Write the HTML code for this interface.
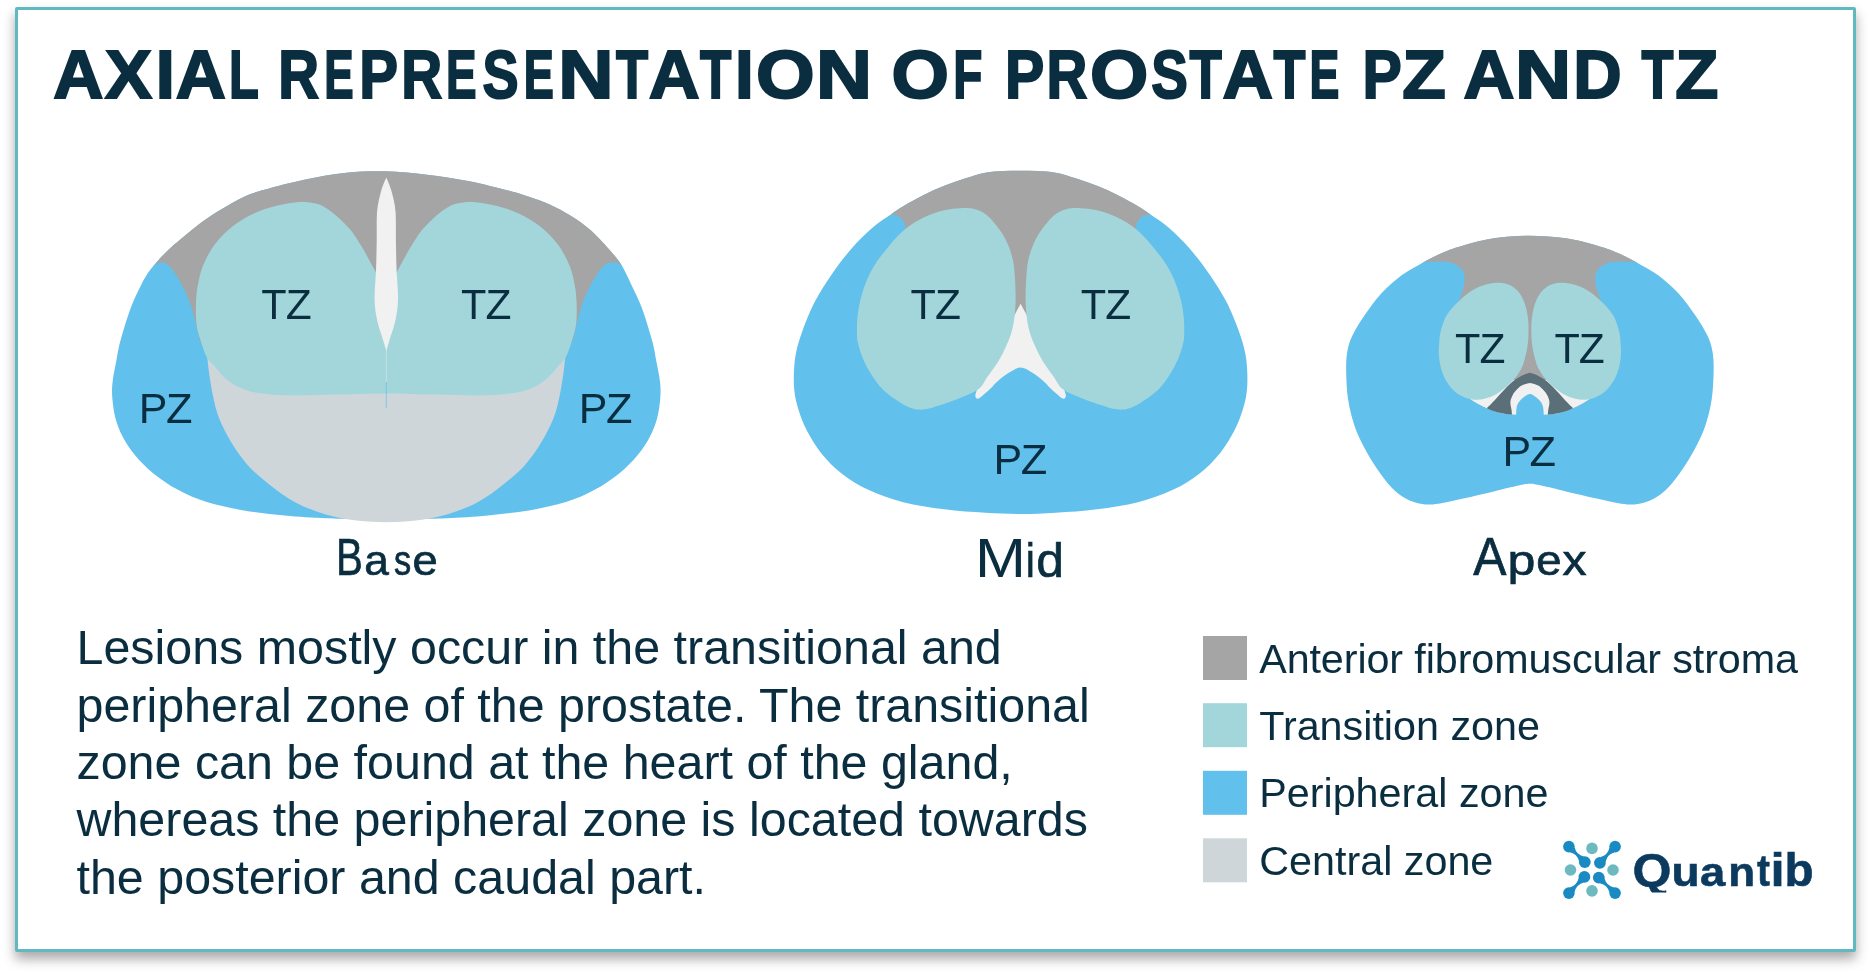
<!DOCTYPE html>
<html lang="en">
<head>
<meta charset="utf-8">
<title>Axial representation of prostate PZ and TZ</title>
<style>
html,body{margin:0;padding:0;background:#fff;}
body{width:1871px;height:975px;position:relative;overflow:hidden;font-family:"Liberation Sans",sans-serif;}
.card{position:absolute;left:15px;top:7px;width:1835px;height:939px;border:3px solid #62b8c0;border-radius:2px;background:#fff;box-shadow:0 7px 12px rgba(55,48,48,.42);}
svg{position:absolute;left:0;top:0;will-change:transform;}
svg text{font-family:"Liberation Sans",sans-serif;}
</style>
</head>
<body>
<div class="card"></div>
<svg width="1871" height="975" viewBox="0 0 1871 975">
<path d="M386.3 171.3C372.9 171 359.8 171.3 346.3 172.7C332.8 174.1 319 176.7 305.3 179.5C291.6 182.3 274.5 186.9 264.2 189.8C253.9 192.7 250.5 193.8 243.7 196.9C236.9 200 230 204.1 223.2 208.2C216.3 212.3 209.4 216.6 202.6 221.6C195.8 226.6 188.2 232.9 182.1 238C175.9 243.1 171 247.1 165.7 252.4C160.4 257.7 154.4 264.3 150.3 269.8C146.2 275.3 144.2 278.9 141 285.2C137.8 291.5 134.2 298.6 130.8 307.8C127.4 317 122.9 331.8 120.5 340.6C118.1 349.4 117.7 353.8 116.4 360.5C115.1 367.2 113.4 374.8 112.7 381C112 387.2 111.8 391.3 112.3 397.5C112.8 403.7 113.7 411.5 115.4 418C117.1 424.5 119.3 430.3 122.6 436.5C125.8 442.7 129.8 448.9 134.9 455C140 461.1 146.2 467.6 153.4 473.4C160.6 479.2 169.1 485 178 489.8C186.9 494.6 195.8 498.7 206.7 502.1C217.6 505.5 230.7 508.2 243.7 510.4C256.7 512.6 271 514.2 284.7 515.5C298.4 516.8 313.8 517.7 325.8 518.2C337.8 518.8 346.5 518.7 356.6 518.8C366.7 518.9 376.4 519 386.3 519C396.2 519 405.9 518.9 416 518.8C426.1 518.7 434.8 518.8 446.8 518.2C458.8 517.7 474.2 516.8 487.9 515.5C501.6 514.2 515.9 512.6 528.9 510.4C541.9 508.2 555 505.5 565.9 502.1C576.9 498.7 585.7 494.6 594.6 489.8C603.5 485 612 479.2 619.2 473.4C626.4 467.6 632.6 461.1 637.7 455C642.8 448.9 646.8 442.7 650 436.5C653.2 430.3 655.5 424.5 657.2 418C658.9 411.5 659.9 403.7 660.3 397.5C660.8 391.3 660.6 387.2 659.9 381C659.2 374.8 657.5 367.2 656.2 360.5C654.9 353.8 654.5 349.4 652.1 340.6C649.7 331.8 645.2 317 641.8 307.8C638.4 298.6 634.9 292.2 631.6 285.2C628.3 278.2 625.3 271.2 622 265.7C618.7 260.2 616.9 258.2 611.8 252.4C606.7 246.6 598.1 236.9 591.3 230.8C584.4 224.7 577.6 220.2 570.7 215.8C563.9 211.5 557 207.8 550.2 204.7C543.4 201.6 536.5 199.3 529.7 197C522.9 194.7 519.5 193.5 509.2 190.8C498.9 188.2 481.8 183.8 468.1 181.1C454.4 178.4 440.6 176.4 427 174.8C413.4 173.2 399.8 171.7 386.3 171.3Z" fill="#62c0ec"/>
<path d="M150.3 269.8C152.9 266.9 160.4 257.7 165.7 252.4C171 247.1 175.9 243.1 182.1 238C188.2 232.9 195.8 226.6 202.6 221.6C209.4 216.6 216.3 212.3 223.2 208.2C230 204.1 236.9 200 243.7 196.9C250.5 193.8 253.9 192.7 264.2 189.8C274.5 186.9 291.6 182.3 305.3 179.5C319 176.7 332.8 174.1 346.3 172.7C359.8 171.3 372.9 171 386.3 171.3C399.8 171.7 413.4 173.2 427 174.8C440.6 176.4 454.4 178.4 468.1 181.1C481.8 183.8 498.9 188.2 509.2 190.8C519.5 193.5 522.9 194.7 529.7 197C536.5 199.3 543.4 201.6 550.2 204.7C557 207.8 563.9 211.5 570.7 215.8C577.6 220.2 584.4 224.7 591.3 230.8C598.1 236.9 606.7 246.6 611.8 252.4C616.9 258.2 620.3 263.5 622 265.7C621.2 265.3 619.3 263.7 617.5 263.2C615.7 262.7 613 262.4 611 262.6C609 262.8 607.3 263.4 605.6 264.4C603.9 265.4 603.3 265.3 600.8 268.8C598.3 272.3 593.6 279.4 590.5 285.2C587.4 291 584.5 297.5 582.3 303.7C580.1 309.9 578.8 315.7 577.2 322.1C575.6 328.5 573.4 338.7 572.6 342L200 342C199.2 338.7 197 328.5 195.4 322.1C193.8 315.7 192.5 309.9 190.3 303.7C188.1 297.5 185.2 291 182.1 285.2C179 279.4 174.3 272.3 171.8 268.8C169.3 265.3 168.7 265.4 167 264.4C165.3 263.4 163.5 262.6 161.6 262.6C159.7 262.6 157.4 263.4 155.5 264.6C153.6 265.8 151.2 268.9 150.3 269.8Z" fill="#a5a5a5"/>
<path d="M205 350C205.3 350.4 206.1 348.8 206.7 352.3C207.3 355.8 207.8 363.6 208.8 370.8C209.8 378 211.2 387.5 212.9 395.4C214.6 403.3 215.9 410.1 219 418C222.1 425.9 226.6 434.7 231.4 442.6C236.2 450.5 241.7 458.4 247.8 465.2C254 472 260.4 477.5 268.3 483.7C276.2 489.9 285.4 497.1 295 502.2C304.6 507.3 315.5 511.4 325.8 514.5C336.1 517.6 346.5 519.3 356.6 520.6C366.7 521.9 376.4 522.3 386.3 522.3C396.2 522.3 405.9 521.9 416 520.6C426.1 519.3 436.5 517.6 446.8 514.5C457.1 511.4 468 507.3 477.6 502.2C487.2 497.1 496.4 489.9 504.3 483.7C512.2 477.5 518.6 472 524.8 465.2C530.9 458.4 536.4 450.5 541.2 442.6C546 434.7 550.5 425.9 553.6 418C556.7 410.1 558 403.3 559.7 395.4C561.4 387.5 562.8 378 563.8 370.8C564.8 363.6 565.3 355.8 565.9 352.3C566.5 348.8 567.3 350.4 567.6 350Z" fill="#ced6da"/>
<path d="M386.3 292L374 268.8C372.1 265.4 366.6 254.8 362.7 248.3C358.8 241.8 354.8 235.3 350.4 229.8C345.9 224.3 340.8 219.4 336 215.4C331.2 211.4 326.1 207.8 321.7 205.6C317.3 203.4 313.8 203 309.4 202.5C304.9 202 300.8 201.9 295 202.5C289.2 203.1 281.4 204.4 274.5 206.2C267.6 208 260.8 210.2 253.9 213.4C247.1 216.7 239.9 220.6 233.4 225.7C226.9 230.8 220 237.4 214.9 244.2C209.8 251 205.5 259.5 202.6 266.7C199.7 273.9 198.6 281.1 197.5 287.3C196.4 293.5 196.2 297.6 196 303.7C195.8 309.8 195.7 318 196.5 324.2C197.3 330.4 198.9 335.1 200.6 340.6C202.3 346.1 204.3 352.6 206.7 357C209.1 361.4 211.5 362.9 214.9 366.7C218.3 370.5 222.5 376.2 227.3 380C232.1 383.8 237.5 387 243.7 389.3C249.8 391.6 255.6 392.8 264.2 393.8C272.8 394.8 283 395.3 295 395.4C307 395.5 320.8 394.9 336 394.6C351.2 394.3 369.5 393.4 386.3 393.4C403.1 393.4 421.4 394.3 436.6 394.6C451.8 394.9 465.6 395.5 477.6 395.4C489.6 395.3 499.9 394.8 508.4 393.8C517 392.8 522.8 391.6 528.9 389.3C535.1 387 540.5 383.8 545.3 380C550.1 376.2 554.3 370.5 557.7 366.7C561.1 362.9 563.5 361.4 565.9 357C568.3 352.6 570.3 346.1 572 340.6C573.7 335.1 575.3 330.4 576.1 324.2C576.9 318 576.8 309.8 576.6 303.7C576.4 297.6 576.2 293.5 575.1 287.3C574 281.1 572.9 273.9 570 266.7C567.1 259.5 562.8 251 557.7 244.2C552.6 237.4 545.7 230.8 539.2 225.7C532.7 220.6 525.6 216.7 518.7 213.4C511.9 210.2 505 208 498.1 206.2C491.2 204.4 483.4 203.1 477.6 202.5C471.8 201.9 467.7 202 463.2 202.5C458.8 203 455.3 203.4 450.9 205.6C446.5 207.8 441.4 211.4 436.6 215.4C431.8 219.4 426.7 224.3 422.2 229.8C417.8 235.3 413.8 241.8 409.9 248.3C406 254.8 400.5 265.4 398.6 268.8Z" fill="#a3d6da"/>
<path d="M386.3 350V382" stroke="#e8f0f1" stroke-width="1" fill="none" opacity=".5"/>
<path d="M386.3 382V408" stroke="#62c0ec" stroke-width="1" fill="none" opacity=".7"/>
<path d="M386.3 177.4C385.4 179.6 382.7 185.2 381.2 190.8C379.7 196.5 377.9 202.8 377.1 211.3C376.4 219.9 376.9 232.2 376.7 242.1C376.5 252 376.4 261.2 376 270.8C375.6 280.4 374.4 291.4 374.6 299.6C374.8 307.8 375.7 313.3 377.1 320.1C378.5 326.9 381.7 335.5 383.2 340.6C384.7 345.7 385.8 349.2 386.3 350.9C386.8 349.2 387.9 345.7 389.4 340.6C390.9 335.5 394.1 326.9 395.5 320.1C396.9 313.3 397.8 307.8 398 299.6C398.2 291.4 397 280.4 396.6 270.8C396.2 261.2 396.1 252 395.9 242.1C395.7 232.2 396.2 219.9 395.5 211.3C394.8 202.8 392.9 196.5 391.4 190.8C389.9 185.2 387.2 179.6 386.3 177.4Z" fill="#f1f1f1"/>
<path d="M1020.6 170.7C1014.7 170.7 1008.9 170.7 1003 171C997.1 171.3 991.7 171.4 985.3 172.7C978.9 173.9 971.6 176.3 964.7 178.5C957.9 180.7 951 183 944.2 185.7C937.4 188.4 930.5 191.5 923.7 194.9C916.9 198.3 908.7 202.9 903.2 206.2C897.7 209.4 895.9 210.8 890.8 214.4C885.7 218 878.9 222 872.4 227.7C865.9 233.3 858.6 240.4 851.8 248.3C844.9 256.2 837.4 266 831.3 274.9C825.1 283.8 819.7 292.4 814.9 301.6C810.1 310.9 805.7 322 802.6 330.4C799.5 338.8 797.6 345.3 796.2 352C794.8 358.7 794.3 364.2 794 370.8C793.7 377.4 793.6 384.8 794.4 391.3C795.1 397.8 796.5 403.3 798.5 409.8C800.5 416.3 803 423.1 806.7 430.3C810.5 437.5 815.2 445.7 821 452.9C826.8 460.1 833.7 467.2 841.6 473.4C849.5 479.5 858 485 868.3 489.8C878.6 494.6 890.6 498.9 903.2 502.2C915.9 505.4 930.5 507.5 944.2 509.3C957.9 511.1 972.6 512 985.3 512.8C998 513.6 1008.8 514 1020.6 514C1032.4 514 1043.2 513.6 1055.9 512.8C1068.6 512 1083.3 511.1 1097 509.3C1110.7 507.5 1125.3 505.4 1138 502.2C1150.7 498.9 1162.6 494.6 1172.9 489.8C1183.2 485 1191.7 479.5 1199.6 473.4C1207.5 467.2 1214.4 460.1 1220.2 452.9C1226 445.7 1230.8 437.5 1234.5 430.3C1238.2 423.1 1240.7 416.3 1242.7 409.8C1244.8 403.3 1246.1 397.8 1246.8 391.3C1247.6 384.8 1247.5 377.4 1247.2 370.8C1246.9 364.2 1246.4 358.7 1245 352C1243.6 345.3 1241.7 338.8 1238.6 330.4C1235.5 322 1231.1 310.9 1226.3 301.6C1221.5 292.4 1216.1 283.8 1209.9 274.9C1203.8 266 1196.2 256.2 1189.4 248.3C1182.6 240.4 1175.3 233.3 1168.8 227.7C1162.3 222 1155.5 218 1150.4 214.4C1145.3 210.8 1143.5 209.4 1138 206.2C1132.5 202.9 1124.3 198.3 1117.5 194.9C1110.7 191.5 1103.8 188.4 1097 185.7C1090.2 183 1083.3 180.7 1076.5 178.5C1069.7 176.3 1062.3 173.9 1055.9 172.7C1049.5 171.4 1044.1 171.3 1038.2 171C1032.3 170.7 1026.5 170.7 1020.6 170.7Z" fill="#62c0ec"/>
<path d="M890.8 214.4C892.9 213 897.7 209.4 903.2 206.2C908.7 202.9 916.9 198.3 923.7 194.9C930.5 191.5 937.4 188.4 944.2 185.7C951 183 957.9 180.7 964.7 178.5C971.6 176.3 978.9 173.9 985.3 172.7C991.7 171.4 997.1 171.3 1003 171C1008.9 170.7 1014.7 170.7 1020.6 170.7C1026.5 170.7 1032.3 170.7 1038.2 171C1044.1 171.3 1049.5 171.4 1055.9 172.7C1062.3 173.9 1069.7 176.3 1076.5 178.5C1083.3 180.7 1090.2 183 1097 185.7C1103.8 188.4 1110.7 191.5 1117.5 194.9C1124.3 198.3 1132.5 202.9 1138 206.2C1143.5 209.4 1148.3 213 1150.4 214.4C1149.4 214.6 1146.1 214.8 1144.2 215.6C1142.3 216.4 1140.5 217.9 1139.2 219.5C1137.9 221.1 1136.8 222.9 1136.2 225C1135.6 227.1 1135.7 230.8 1135.6 232L1042 232L1030 318L1011 318L999 232L905.6 232C905.5 230.8 905.6 227.1 905 225C904.4 222.9 903.3 221.1 902 219.5C900.7 217.9 898.9 216.4 897 215.6C895.1 214.8 891.8 214.6 890.8 214.4Z" fill="#a5a5a5"/>
<path d="M1020.6 303.7L1013.5 317L1000 345L985 372L976.5 391C976.3 391.8 975.3 394.4 975.3 395.6C975.3 396.8 975.9 398 976.6 398.4C977.3 398.8 978.3 398.8 979.6 398C980.9 397.2 982.7 395.4 984.6 393.8C986.5 392.2 988.8 390.3 990.8 388.3C992.8 386.3 993.8 384.5 996.9 381.9C1000 379.3 1005.2 375 1009.2 372.6C1013.2 370.2 1016.8 367.6 1020.6 367.6C1024.4 367.6 1028 370.2 1032 372.6C1036 375 1041.2 379.3 1044.3 381.9C1047.4 384.5 1048.4 386.3 1050.4 388.3C1052.5 390.3 1054.7 392.2 1056.6 393.8C1058.5 395.4 1060.3 397.2 1061.6 398C1062.9 398.8 1063.9 398.8 1064.6 398.4C1065.3 398 1065.9 396.8 1065.9 395.6C1065.9 394.4 1064.9 391.8 1064.7 391L1056.2 372L1041.2 345L1027.7 317Z" fill="#f1f1f1"/>
<path d="M905.6 228.8C911.4 224 917.3 220.6 923.7 217.5C930.1 214.4 938.1 211.9 944.2 210.3C950.4 208.8 955.5 208.4 960.6 208.2C965.7 208 970.5 208.1 975 209.3C979.5 210.5 983.2 212 987.3 215.4C991.4 218.8 996.2 225 999.6 229.8C1003 234.6 1005.6 239.1 1007.8 244.2C1010 249.3 1011.8 254.8 1013 260.6C1014.2 266.4 1014.6 272.5 1015 279C1015.4 285.5 1015.7 293.4 1015.6 299.6C1015.5 305.8 1015.2 310.9 1014.6 316C1014 321.1 1013.3 325.6 1012 330.4C1010.7 335.2 1008.8 340 1006.6 345C1004.4 350 1002 355.2 998.8 360.5C995.6 365.8 990.7 372.2 987.3 377C983.9 381.8 983.3 385.6 978.3 389.3C973.3 393 964.2 396.2 957.5 399C950.8 401.8 942.9 404.2 938 405.8C933.1 407.4 931.2 408.2 928 408.8C924.8 409.4 922.1 409.8 919 409.6C915.9 409.4 912.8 408.7 909.5 407.4C906.2 406.1 903.5 404.8 899 401.8C894.5 398.8 887.4 394.1 882.6 389.3C877.8 384.5 873.7 378.3 870.3 372.8C866.9 367.3 864.1 361.4 862.1 356.4C860.1 351.4 858.9 346.6 858 343C857.1 339.4 857.1 339 857 334.5C856.9 330 856.8 322.9 857.6 316C858.5 309.1 859.6 301.3 862.1 293.4C864.6 285.5 868 276.7 872.4 268.8C876.8 260.9 883.3 252.9 888.8 246.2C894.3 239.5 899.8 233.6 905.6 228.8Z" fill="#a3d6da"/>
<path d="M1152.4 246.2C1157.9 252.9 1164.4 260.9 1168.8 268.8C1173.3 276.7 1176.6 285.5 1179.1 293.4C1181.6 301.3 1182.8 309.1 1183.6 316C1184.4 322.9 1184.3 330 1184.2 334.5C1184.1 339 1184.1 339.4 1183.2 343C1182.3 346.6 1181.1 351.4 1179.1 356.4C1177 361.4 1174.3 367.3 1170.9 372.8C1167.5 378.3 1163.4 384.5 1158.6 389.3C1153.8 394.1 1146.7 398.8 1142.2 401.8C1137.7 404.8 1135 406.1 1131.7 407.4C1128.4 408.7 1125.3 409.4 1122.2 409.6C1119.1 409.8 1116.4 409.4 1113.2 408.8C1110 408.2 1108.1 407.4 1103.2 405.8C1098.3 404.2 1090.4 401.8 1083.7 399C1077 396.2 1067.9 393 1062.9 389.3C1057.9 385.6 1057.3 381.8 1053.9 377C1050.5 372.2 1045.6 365.8 1042.4 360.5C1039.2 355.2 1036.8 350 1034.6 345C1032.4 340 1030.5 335.2 1029.2 330.4C1027.9 325.6 1027.2 321.1 1026.6 316C1026 310.9 1025.7 305.8 1025.6 299.6C1025.5 293.4 1025.8 285.5 1026.2 279C1026.6 272.5 1027 266.4 1028.2 260.6C1029.4 254.8 1031.2 249.3 1033.4 244.2C1035.6 239.1 1038.2 234.6 1041.6 229.8C1045 225 1049.8 218.8 1053.9 215.4C1058 212 1061.8 210.5 1066.2 209.3C1070.7 208.1 1075.5 208 1080.6 208.2C1085.7 208.4 1090.8 208.8 1097 210.3C1103.2 211.9 1111.1 214.4 1117.5 217.5C1123.9 220.6 1129.8 224 1135.6 228.8C1141.4 233.6 1146.9 239.5 1152.4 246.2Z" fill="#a3d6da"/>
<path d="M1529.9 235.7C1517.9 235.7 1505 236.7 1493.9 238.3C1482.8 239.9 1471.8 243.1 1463.2 245.5C1454.7 247.9 1449.3 249.9 1442.6 252.7C1435.9 255.5 1429.9 258.6 1423.1 262.4C1416.3 266.2 1408.6 270.1 1401.6 275.3C1394.6 280.5 1387.2 287.1 1381 293.8C1374.8 300.5 1369.4 308.3 1364.6 315.3C1359.8 322.3 1355.2 329.6 1352.3 335.8C1349.4 342 1348.2 346.2 1347.2 352.3C1346.2 358.4 1346 364.6 1346.2 372.5C1346.4 380.4 1346.8 391.2 1348.2 400C1349.6 408.8 1351.7 417.4 1354.4 425.5C1357.1 433.6 1360.8 441.1 1364.6 448.3C1368.4 455.5 1372.5 462.3 1377 468.8C1381.5 475.3 1386.5 482.3 1391.3 487.3C1396.1 492.3 1400.6 495.8 1405.7 498.6C1410.8 501.4 1416.6 503.2 1422.1 504.1C1427.6 505 1431.7 504.6 1438.5 503.7C1445.3 502.8 1454 500.6 1463.2 498.5C1472.4 496.4 1484.7 493.5 1493.9 491.4C1503.1 489.2 1512.6 486.9 1518.6 485.6C1524.6 484.3 1526.1 483.8 1529.9 483.8C1533.7 483.8 1535.2 484.3 1541.2 485.6C1547.2 486.9 1556.7 489.2 1565.9 491.4C1575.1 493.5 1587.4 496.4 1596.6 498.5C1605.8 500.6 1614.5 502.8 1621.3 503.7C1628.2 504.6 1632.2 505 1637.7 504.1C1643.2 503.2 1649 501.4 1654.1 498.6C1659.2 495.8 1663.7 492.3 1668.5 487.3C1673.3 482.3 1678.4 475.3 1682.8 468.8C1687.3 462.3 1691.4 455.5 1695.2 448.3C1699 441.1 1702.7 433.6 1705.4 425.5C1708.1 417.4 1710.2 408.8 1711.6 400C1713 391.2 1713.4 380.4 1713.6 372.5C1713.8 364.6 1713.6 358.4 1712.6 352.3C1711.6 346.2 1710.4 342 1707.5 335.8C1704.6 329.6 1700 322.3 1695.2 315.3C1690.4 308.3 1685 300.5 1678.8 293.8C1672.6 287.1 1665.2 280.5 1658.2 275.3C1651.2 270.1 1643.5 266.2 1636.7 262.4C1629.9 258.6 1623.9 255.5 1617.2 252.7C1610.5 249.9 1605.2 247.9 1596.6 245.5C1588.1 243.1 1577 239.9 1565.9 238.3C1554.8 236.7 1541.9 235.7 1529.9 235.7Z" fill="#62c0ec"/>
<path d="M1423.1 262.4C1426.3 260.8 1435.9 255.5 1442.6 252.7C1449.3 249.9 1454.7 247.9 1463.2 245.5C1471.8 243.1 1482.8 239.9 1493.9 238.3C1505 236.7 1517.9 235.7 1529.9 235.7C1541.9 235.7 1554.8 236.7 1565.9 238.3C1577 239.9 1588.1 243.1 1596.6 245.5C1605.2 247.9 1610.5 249.9 1617.2 252.7C1623.9 255.5 1633.5 260.8 1636.7 262.4L1607.8 262.4L1607.8 385L1452 385L1452 262.4Z" fill="#a5a5a5"/>
<path d="M1455 380C1456.2 382 1459.3 388.8 1462 392C1464.7 395.2 1468 397.4 1470.9 399.5C1473.8 401.6 1476.6 403.2 1479.2 404.6C1481.8 406.1 1484.1 407 1486.8 408.2C1489.5 409.4 1492.4 410.8 1495.6 411.8C1498.8 412.8 1502.4 413.6 1505.8 414.1C1509.2 414.6 1512 414.7 1516 414.8C1520 414.9 1525.3 415 1529.9 415C1534.5 415 1539.8 414.9 1543.8 414.8C1547.8 414.7 1550.6 414.6 1554 414.1C1557.4 413.6 1561 412.8 1564.2 411.8C1567.4 410.8 1570.3 409.4 1573 408.2C1575.7 407 1578 406.1 1580.6 404.6C1583.2 403.2 1586 401.6 1588.9 399.5C1591.8 397.4 1595.2 395.2 1597.8 392C1600.5 388.8 1603.6 382 1604.8 380Z" fill="#f1f1f1"/>
<path d="M1423.1 262.4C1425.1 262.3 1431.1 261.7 1435 261.6C1438.9 261.5 1443.5 261.6 1446.7 262C1449.9 262.4 1452 263 1454 263.8C1456 264.6 1457.5 265.8 1459 267C1460.5 268.2 1462.1 269.4 1463 271C1463.9 272.6 1464.4 274.5 1464.6 276.3C1464.8 278.1 1464.6 279.9 1464.4 282C1464.2 284.1 1464.1 285.4 1463.2 288.6C1462.3 291.8 1460.9 295.8 1459 301C1457.1 306.2 1453.7 312.7 1452 320C1450.3 327.3 1449 336.7 1449 345C1449 353.3 1450.5 363.2 1452 370C1453.5 376.8 1457 383.3 1458 386L1430 386L1400 300Z" fill="#62c0ec"/>
<path d="M1601.8 386C1602.8 383.3 1606.3 376.8 1607.8 370C1609.3 363.2 1610.8 353.3 1610.8 345C1610.8 336.7 1609.5 327.3 1607.8 320C1606.1 312.7 1602.7 306.2 1600.8 301C1598.9 295.8 1597.5 291.8 1596.6 288.6C1595.7 285.4 1595.6 284.1 1595.4 282C1595.2 279.9 1595 278.1 1595.2 276.3C1595.4 274.5 1595.9 272.6 1596.8 271C1597.7 269.4 1599.3 268.2 1600.8 267C1602.3 265.8 1603.8 264.6 1605.8 263.8C1607.9 263 1609.9 262.4 1613.1 262C1616.3 261.6 1620.9 261.5 1624.8 261.6C1628.7 261.7 1634.7 262.3 1636.7 262.4L1659.8 300L1629.8 386Z" fill="#62c0ec"/>
<path d="M1529.9 372.8C1528.6 373.2 1524.5 374.4 1522.2 375.4C1519.9 376.4 1518.1 377.6 1516.1 379C1514 380.4 1512 382.2 1509.9 384.1C1507.9 386 1505.8 388.2 1503.8 390.3C1501.8 392.4 1499.6 394.8 1497.6 397C1495.5 399.2 1493.3 401.7 1491.5 403.6C1489.7 405.5 1487.6 407.4 1486.8 408.2C1488.3 408.8 1492.4 410.8 1495.6 411.8C1498.8 412.8 1503.1 413.6 1505.8 414.1C1508.5 414.6 1511 414.5 1512 414.6C1511.9 413.8 1511.8 411.6 1511.5 409.8C1511.2 408 1510.5 405.3 1510.4 403.6C1510.3 401.9 1510.4 401 1510.8 399.5C1511.2 398 1512 396.1 1513 394.4C1514 392.7 1515.6 390.8 1517.1 389.3C1518.6 387.8 1520.1 386.2 1522.2 385.2C1524.3 384.2 1528.6 383.5 1529.9 383.1C1531.2 383.5 1535.5 384.2 1537.6 385.2C1539.7 386.2 1541.2 387.8 1542.7 389.3C1544.2 390.8 1545.8 392.7 1546.8 394.4C1547.9 396.1 1548.6 398 1549 399.5C1549.4 401 1549.5 401.9 1549.4 403.6C1549.3 405.3 1548.6 408 1548.3 409.8C1548 411.6 1547.9 413.8 1547.8 414.6C1548.8 414.5 1551.3 414.6 1554 414.1C1556.7 413.6 1561 412.8 1564.2 411.8C1567.4 410.8 1571.5 408.8 1573 408.2C1572.2 407.4 1570.1 405.5 1568.3 403.6C1566.5 401.7 1564.3 399.2 1562.2 397C1560.2 394.8 1558.1 392.4 1556 390.3C1554 388.2 1552 386 1549.9 384.1C1547.9 382.2 1545.8 380.4 1543.7 379C1541.7 377.6 1539.9 376.4 1537.6 375.4C1535.3 374.4 1531.2 373.2 1529.9 372.8Z" fill="#5b6f79"/>
<path d="M1516.1 416C1516.1 415.6 1516 415.3 1516.1 413.9C1516.2 412.5 1516.2 409.6 1516.6 407.7C1517 405.8 1517.5 404.3 1518.6 402.6C1519.7 400.9 1521.4 398.9 1523.3 397.5C1525.2 396.1 1527.7 393.9 1529.9 393.9C1532.1 393.9 1534.6 396.1 1536.5 397.5C1538.4 398.9 1540.1 400.9 1541.2 402.6C1542.3 404.3 1542.8 405.8 1543.2 407.7C1543.6 409.6 1543.6 412.5 1543.7 413.9C1543.8 415.3 1543.7 415.6 1543.7 416L1543.7 420L1516.1 420Z" fill="#62c0ec"/>
<path d="M1459 301C1463.5 296.7 1468.6 292.5 1473.4 289.7C1478.2 286.9 1483 285.2 1487.8 284.1C1492.6 283 1498.1 282.5 1502.2 282.9C1506.3 283.3 1509.3 284.6 1512.4 286.6C1515.5 288.6 1518.4 291.4 1520.6 294.8C1522.8 298.2 1524.5 302.3 1525.8 307.1C1527.1 311.9 1528.1 317.4 1528.4 323.5C1528.7 329.6 1528.5 337.8 1527.8 344C1527.1 350.2 1525.4 356.4 1524.3 360.5C1523.2 364.6 1522.7 365.8 1521.2 368.7C1519.7 371.6 1517.7 374.9 1515.1 378C1512.5 381.1 1509 384.5 1505.8 387.2C1502.5 389.9 1499 392.5 1495.6 394.4C1492.2 396.3 1488.7 397.6 1485.3 398.5C1481.9 399.4 1478.4 399.9 1475 399.7C1471.6 399.5 1468.2 398.9 1464.8 397.5C1461.4 396.1 1457.6 394.1 1454.5 391.3C1451.4 388.6 1448.5 384.8 1446.3 381C1444.1 377.2 1442.4 373 1441.2 368.7C1440 364.4 1439.2 359.3 1438.9 355.4C1438.6 351.5 1438.8 349.1 1439.1 345.1C1439.4 341.2 1439.3 336.7 1440.6 331.7C1441.9 326.7 1443.6 320.4 1446.7 315.3C1449.8 310.2 1454.5 305.3 1459 301Z" fill="#a3d6da"/>
<path d="M1613.1 315.3C1616.2 320.4 1617.9 326.7 1619.2 331.7C1620.5 336.7 1620.4 341.2 1620.7 345.1C1621 349.1 1621.2 351.5 1620.9 355.4C1620.6 359.3 1619.8 364.4 1618.6 368.7C1617.4 373 1615.7 377.2 1613.5 381C1611.3 384.8 1608.4 388.6 1605.3 391.3C1602.2 394.1 1598.4 396.1 1595 397.5C1591.6 398.9 1588.2 399.5 1584.8 399.7C1581.4 399.9 1577.9 399.4 1574.5 398.5C1571.1 397.6 1567.6 396.3 1564.2 394.4C1560.8 392.5 1557.3 389.9 1554 387.2C1550.8 384.5 1547.3 381.1 1544.7 378C1542.1 374.9 1540.1 371.6 1538.6 368.7C1537.1 365.8 1536.6 364.6 1535.5 360.5C1534.4 356.4 1532.7 350.2 1532 344C1531.3 337.8 1531.1 329.6 1531.4 323.5C1531.7 317.4 1532.7 311.9 1534 307.1C1535.3 302.3 1537 298.2 1539.2 294.8C1541.4 291.4 1544.3 288.6 1547.4 286.6C1550.5 284.6 1553.5 283.3 1557.6 282.9C1561.7 282.5 1567.2 283 1572 284.1C1576.8 285.2 1581.6 286.9 1586.4 289.7C1591.2 292.5 1596.4 296.7 1600.8 301C1605.3 305.3 1610 310.2 1613.1 315.3Z" fill="#a3d6da"/>
<rect x="1203" y="636" width="44" height="44" fill="#a5a5a5"/>
<rect x="1203" y="703.2" width="44" height="44" fill="#a3d6da"/>
<rect x="1203" y="770.8" width="44" height="44" fill="#62c0ec"/>
<rect x="1203" y="838.3" width="44" height="44" fill="#ced6da"/>
<path d="M1569.9 852.3Q1577.2 854 1579.1 861.3L1583.8 856.4Q1576.5 854.7 1574.6 847.4Z" fill="#1a8ac3"/>
<circle cx="1568.9" cy="846.6" r="5.8" fill="#1a8ac3"/>
<circle cx="1584.8" cy="862.1" r="5.9" fill="#1a8ac3"/>
<path d="M1609.4 847.7Q1607.9 855 1600.6 857L1605.6 861.7Q1607.1 854.4 1614.4 852.4Z" fill="#1a8ac3"/>
<circle cx="1615.1" cy="846.6" r="5.8" fill="#1a8ac3"/>
<circle cx="1599.9" cy="862.8" r="5.9" fill="#1a8ac3"/>
<path d="M1574.6 892Q1576.3 884.6 1583.6 882.5L1578.7 877.9Q1577 885.3 1569.7 887.4Z" fill="#1a8ac3"/>
<circle cx="1568.9" cy="893.1" r="5.8" fill="#1a8ac3"/>
<circle cx="1584.4" cy="876.8" r="5.9" fill="#1a8ac3"/>
<path d="M1614 887.4Q1606.6 885.7 1604.5 878.4L1599.9 883.3Q1607.3 885 1609.4 892.3Z" fill="#1a8ac3"/>
<circle cx="1615.1" cy="893.1" r="5.8" fill="#1a8ac3"/>
<circle cx="1598.8" cy="877.6" r="5.9" fill="#1a8ac3"/>
<circle cx="1592" cy="848.4" r="5.8" fill="#6cbabf"/>
<circle cx="1570.5" cy="870" r="5.8" fill="#6cbabf"/>
<circle cx="1613" cy="870" r="5.8" fill="#6cbabf"/>
<circle cx="1592" cy="890.9" r="5.8" fill="#6cbabf"/>
<text y="97.8" font-size="67.8" font-weight="700" fill="#0a2e40" stroke="#0a2e40" stroke-width="2" stroke-linejoin="miter" stroke-miterlimit="2.5"><tspan x="53.2" textLength="50.16" lengthAdjust="spacingAndGlyphs">A</tspan><tspan x="104.9" textLength="46.94" lengthAdjust="spacingAndGlyphs">X</tspan><tspan x="155.8" textLength="19.10" lengthAdjust="spacingAndGlyphs">I</tspan><tspan x="175.7" textLength="50.16" lengthAdjust="spacingAndGlyphs">A</tspan><tspan x="229" textLength="28.92" lengthAdjust="spacingAndGlyphs">L</tspan> <tspan x="278.3" textLength="40.84" lengthAdjust="spacingAndGlyphs">R</tspan><tspan x="324.3" textLength="29.36" lengthAdjust="spacingAndGlyphs">E</tspan><tspan x="359.3" textLength="38.78" lengthAdjust="spacingAndGlyphs">P</tspan><tspan x="401.2" textLength="40.96" lengthAdjust="spacingAndGlyphs">R</tspan><tspan x="446.1" textLength="30.55" lengthAdjust="spacingAndGlyphs">E</tspan><tspan x="482.5" textLength="36.07" lengthAdjust="spacingAndGlyphs">S</tspan><tspan x="523.8" textLength="30.08" lengthAdjust="spacingAndGlyphs">E</tspan><tspan x="558.2" textLength="55.28" lengthAdjust="spacingAndGlyphs">N</tspan><tspan x="615.9" textLength="32.16" lengthAdjust="spacingAndGlyphs">T</tspan><tspan x="648.7" textLength="50.91" lengthAdjust="spacingAndGlyphs">A</tspan><tspan x="699.9" textLength="31.33" lengthAdjust="spacingAndGlyphs">T</tspan><tspan x="735" textLength="18.71" lengthAdjust="spacingAndGlyphs">I</tspan><tspan x="755.9" textLength="58.66" lengthAdjust="spacingAndGlyphs">O</tspan><tspan x="816" textLength="56.02" lengthAdjust="spacingAndGlyphs">N</tspan> <tspan x="891.5" textLength="57.43" lengthAdjust="spacingAndGlyphs">O</tspan><tspan x="953.3" textLength="29.14" lengthAdjust="spacingAndGlyphs">F</tspan> <tspan x="1004.9" textLength="39.25" lengthAdjust="spacingAndGlyphs">P</tspan><tspan x="1046.5" textLength="40.84" lengthAdjust="spacingAndGlyphs">R</tspan><tspan x="1089.9" textLength="58.32" lengthAdjust="spacingAndGlyphs">O</tspan><tspan x="1151.3" textLength="36.63" lengthAdjust="spacingAndGlyphs">S</tspan><tspan x="1189.6" textLength="32.26" lengthAdjust="spacingAndGlyphs">T</tspan><tspan x="1222.4" textLength="50.48" lengthAdjust="spacingAndGlyphs">A</tspan><tspan x="1273.4" textLength="31.95" lengthAdjust="spacingAndGlyphs">T</tspan><tspan x="1309.6" textLength="29.84" lengthAdjust="spacingAndGlyphs">E</tspan> <tspan x="1362.5" textLength="39.25" lengthAdjust="spacingAndGlyphs">P</tspan><tspan x="1402.3" textLength="43.58" lengthAdjust="spacingAndGlyphs">Z</tspan> <tspan x="1463.5" textLength="50.91" lengthAdjust="spacingAndGlyphs">A</tspan><tspan x="1515.1" textLength="56.14" lengthAdjust="spacingAndGlyphs">N</tspan><tspan x="1573.3" textLength="48.40" lengthAdjust="spacingAndGlyphs">D</tspan> <tspan x="1641.5" textLength="31.95" lengthAdjust="spacingAndGlyphs">T</tspan><tspan x="1675.3" textLength="43.14" lengthAdjust="spacingAndGlyphs">Z</tspan></text>
<text y="318.7" font-size="42.8" fill="#0a2e40"><tspan x="261.3" textLength="25.39" lengthAdjust="spacingAndGlyphs">T</tspan><tspan x="285.7" textLength="25.98" lengthAdjust="spacingAndGlyphs">Z</tspan></text>
<text y="318.8" font-size="42.8" fill="#0a2e40"><tspan x="461" textLength="25.39" lengthAdjust="spacingAndGlyphs">T</tspan><tspan x="485.4" textLength="25.98" lengthAdjust="spacingAndGlyphs">Z</tspan></text>
<text y="319.3" font-size="42.8" fill="#0a2e40"><tspan x="910.5" textLength="25.39" lengthAdjust="spacingAndGlyphs">T</tspan><tspan x="934.9" textLength="25.98" lengthAdjust="spacingAndGlyphs">Z</tspan></text>
<text y="319.3" font-size="42.8" fill="#0a2e40"><tspan x="1080.8" textLength="25.39" lengthAdjust="spacingAndGlyphs">T</tspan><tspan x="1105.2" textLength="25.98" lengthAdjust="spacingAndGlyphs">Z</tspan></text>
<text y="362.6" font-size="42.8" fill="#0a2e40"><tspan x="1455.1" textLength="25.39" lengthAdjust="spacingAndGlyphs">T</tspan><tspan x="1479.5" textLength="25.98" lengthAdjust="spacingAndGlyphs">Z</tspan></text>
<text y="362.6" font-size="42.8" fill="#0a2e40"><tspan x="1554.4" textLength="25.39" lengthAdjust="spacingAndGlyphs">T</tspan><tspan x="1578.8" textLength="25.98" lengthAdjust="spacingAndGlyphs">Z</tspan></text>
<text y="422.8" font-size="42.8" fill="#0a2e40"><tspan x="138.7" textLength="28.70" lengthAdjust="spacingAndGlyphs">P</tspan><tspan x="165.9" textLength="26.54" lengthAdjust="spacingAndGlyphs">Z</tspan></text>
<text y="422.8" font-size="42.8" fill="#0a2e40"><tspan x="578.7" textLength="28.70" lengthAdjust="spacingAndGlyphs">P</tspan><tspan x="605.9" textLength="26.54" lengthAdjust="spacingAndGlyphs">Z</tspan></text>
<text y="473.5" font-size="42.8" fill="#0a2e40"><tspan x="993.5" textLength="28.70" lengthAdjust="spacingAndGlyphs">P</tspan><tspan x="1020.7" textLength="26.54" lengthAdjust="spacingAndGlyphs">Z</tspan></text>
<text y="465.8" font-size="42.8" fill="#0a2e40"><tspan x="1502.4" textLength="28.70" lengthAdjust="spacingAndGlyphs">P</tspan><tspan x="1529.6" textLength="26.54" lengthAdjust="spacingAndGlyphs">Z</tspan></text>
<text y="574.7" font-size="43.4" fill="#0a2e40" stroke="#0a2e40" stroke-width="0.7"><tspan x="336" font-size="52.3" textLength="26.82" lengthAdjust="spacingAndGlyphs">B</tspan><tspan x="364.3" font-size="42.4" textLength="24.58" lengthAdjust="spacingAndGlyphs">a</tspan><tspan x="394" font-size="42.4" textLength="17.20" lengthAdjust="spacingAndGlyphs">s</tspan><tspan x="412.6" font-size="42.4" textLength="25.25" lengthAdjust="spacingAndGlyphs">e</tspan></text>
<text y="576.5" font-size="43.4" fill="#0a2e40" stroke="#0a2e40" stroke-width="0.7"><tspan x="975" font-size="54.6" stroke="none" textLength="50.93" lengthAdjust="spacingAndGlyphs">M</tspan><tspan x="1025.7" font-size="49" textLength="9.10" lengthAdjust="spacingAndGlyphs">i</tspan><tspan x="1036.3" font-size="49" textLength="27.70" lengthAdjust="spacingAndGlyphs">d</tspan></text>
<text y="574.5" font-size="43.4" fill="#0a2e40" stroke="#0a2e40" stroke-width="0.7"><tspan x="1473.3" font-size="53.6" textLength="33.19" lengthAdjust="spacingAndGlyphs">A</tspan><tspan x="1507.4" font-size="42.4" textLength="27.83" lengthAdjust="spacingAndGlyphs">p</tspan><tspan x="1536.3" font-size="42.4" textLength="25.36" lengthAdjust="spacingAndGlyphs">e</tspan><tspan x="1562.5" font-size="42.4" textLength="24.06" lengthAdjust="spacingAndGlyphs">x</tspan></text>
<text x="76.5" y="663.9" font-size="48.4" font-weight="400" fill="#0a2e40" text-anchor="start">Lesions mostly occur in the transitional and</text>
<text x="76.5" y="721.5" font-size="48.4" font-weight="400" fill="#0a2e40" text-anchor="start">peripheral zone of the prostate. The transitional</text>
<text x="76.5" y="778.9" font-size="48.4" font-weight="400" fill="#0a2e40" text-anchor="start">zone can be found at the heart of the gland,</text>
<text x="76.5" y="836.4" font-size="48.4" font-weight="400" fill="#0a2e40" text-anchor="start">whereas the peripheral zone is located towards</text>
<text x="76.5" y="893.9" font-size="48.4" font-weight="400" fill="#0a2e40" text-anchor="start">the posterior and caudal part.</text>
<text x="1259.2" y="672.9" font-size="41.3" font-weight="400" fill="#0a2e40" text-anchor="start" letter-spacing="-0.1">Anterior fibromuscular stroma</text>
<text x="1259.2" y="740.4" font-size="41.3" font-weight="400" fill="#0a2e40" text-anchor="start">Transition zone</text>
<text x="1259.2" y="807.4" font-size="41.3" font-weight="400" fill="#0a2e40" text-anchor="start">Peripheral zone</text>
<text x="1259.2" y="875" font-size="41.3" font-weight="400" fill="#0a2e40" text-anchor="start">Central zone</text>
<clipPath id="qclip"><rect x="1625" y="840" width="200" height="52.5"/></clipPath>
<text y="885.9" font-size="46" font-weight="700" fill="#0b3a5e" stroke="#0b3a5e" stroke-width="0.6" clip-path="url(#qclip)"><tspan x="1632.4" font-size="46" textLength="38.96" lengthAdjust="spacingAndGlyphs">Q</tspan><tspan x="1671.4" font-size="40.6" textLength="28.08" lengthAdjust="spacingAndGlyphs">u</tspan><tspan x="1699.9" font-size="40.6" textLength="25.24" lengthAdjust="spacingAndGlyphs">a</tspan><tspan x="1728.3" font-size="40.6" textLength="26.82" lengthAdjust="spacingAndGlyphs">n</tspan><tspan x="1756.9" font-size="44" textLength="12.95" lengthAdjust="spacingAndGlyphs">t</tspan><tspan x="1770.4" font-size="46.5" textLength="14.17" lengthAdjust="spacingAndGlyphs">i</tspan><tspan x="1784.5" font-size="46.5" textLength="29.09" lengthAdjust="spacingAndGlyphs">b</tspan></text>
</svg>
</body>
</html>
